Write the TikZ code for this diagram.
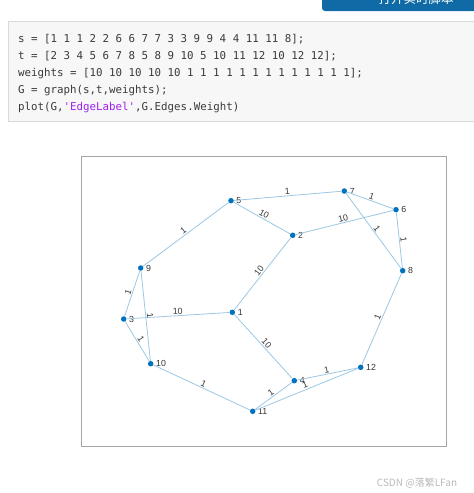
\documentclass[tikz,border=0pt]{standalone}
\usepackage{fontspec}
\setmainfont{Liberation Sans}
\setmonofont{DejaVu Sans Mono}
\newfontfamily\cjkfont{Noto Sans CJK SC}
\usetikzlibrary{positioning}

\definecolor{mlblue}{HTML}{0072BD}
\definecolor{edgeblue}{HTML}{9CC8E6}
\definecolor{btnblue}{HTML}{0F6AA6}
\definecolor{codebg}{HTML}{F7F7F7}
\definecolor{codeframe}{HTML}{DADADA}
\definecolor{codetext}{HTML}{3A3A3A}
\definecolor{strpurple}{HTML}{A020F0}

\begin{document}
\begin{tikzpicture}[
        x=1pt, y=-1pt,
        vertex/.style={circle, fill=mlblue, inner sep=0pt, minimum size=5.5pt,
            label={[font=\fontsize{8.8}{9}\selectfont, text=black!80, label distance=-1pt]right:#1}},
        edge/.style={edgeblue, line width=0.8pt},
        weight/.style={midway, sloped, above, inner sep=1pt, font=\fontsize{8.8}{9}\selectfont, text=black!80},
        codeline/.style={anchor=base west, inner sep=0pt, font=\ttfamily\fontsize{10.8}{12}\selectfont, text=codetext}
    ]
    \useasboundingbox (0,0) rectangle (474,493);
    \clip (0,0) rectangle (474,493);

    % Knopf oben rechts
    \fill[btnblue, rounded corners=3pt] (322,-12) rectangle (490,11);
    \node[text=white, font=\cjkfont\fontsize{12.5}{13}\selectfont] (btn) at (416,-1) {打开实时脚本};

    % Codeblock
    \filldraw[fill=codebg, draw=codeframe] (8,21) rectangle (490,121);
    \node[codeline] (code1) at (18,42) {s = [1 1 1 2 2 6 6 7 7 3 3 9 9 4 4 11 11 8];};
    \node[codeline] (code2) at (18,59) {t = [2 3 4 5 6 7 8 5 8 9 10 5 10 11 12 10 12 12];};
    \node[codeline] (code3) at (18,76) {weights = [10 10 10 10 10 1 1 1 1 1 1 1 1 1 1 1 1 1];};
    \node[codeline] (code4) at (18,93) {G = graph(s,t,weights);};
    \node[codeline] (code5) at (18,110) {plot(G,\textcolor{strpurple}{\char39 EdgeLabel\char39},G.Edges.Weight)};

    % Achsenrahmen
    \draw[gray!70, line width=1pt, fill=white] (81,156) rectangle (446,446);

    % Knoten
    \node[vertex=1] (n1) at (232.3,312.3) {};
    \node[vertex=2] (n2) at (292.7,235.3) {};
    \node[vertex=3] (n3) at (123.7,319) {};
    \node[vertex=4] (n4) at (294.3,380.7) {};
    \node[vertex=5] (n5) at (231,200.7) {};
    \node[vertex=6] (n6) at (396,209.7) {};
    \node[vertex=7] (n7) at (344.3,191) {};
    \node[vertex=8] (n8) at (402.7,270.7) {};
    \node[vertex=9] (n9) at (140.7,268) {};
    \node[vertex=10] (n10) at (150.7,363.7) {};
    \node[vertex=11] (n11) at (252.7,411.3) {};
    \node[vertex=12] (n12) at (360.7,367.3) {};

    % Kanten mit Gewichten
    \draw[edge] (n1) -- node[weight] {10} (n2);
    \draw[edge] (n1) -- node[weight] {10} (n3);
    \draw[edge] (n1) -- node[weight] {10} (n4);
    \draw[edge] (n2) -- node[weight] {10} (n5);
    \draw[edge] (n2) -- node[weight] {10} (n6);
    \draw[edge] (n6) -- node[weight] {1} (n7);
    \draw[edge] (n6) -- node[weight] {1} (n8);
    \draw[edge] (n7) -- node[weight] {1} (n5);
    \draw[edge] (n7) -- node[weight] {1} (n8);
    \draw[edge] (n3) -- node[weight] {1} (n9);
    \draw[edge] (n3) -- node[weight] {1} (n10);
    \draw[edge] (n9) -- node[weight] {1} (n5);
    \draw[edge] (n9) -- node[weight] {1} (n10);
    \draw[edge] (n4) -- node[weight] {1} (n11);
    \draw[edge] (n4) -- node[weight] {1} (n12);
    \draw[edge] (n11) -- node[weight] {1} (n10);
    \draw[edge] (n11) -- node[weight] {1} (n12);
    \draw[edge] (n8) -- node[weight] {1} (n12);

    % Wasserzeichen
    \node[text=gray!55, font=\cjkfont\fontsize{10}{12}\selectfont] (wm) at (417,483) {CSDN @落繁LFan};
\end{tikzpicture}
\end{document}
